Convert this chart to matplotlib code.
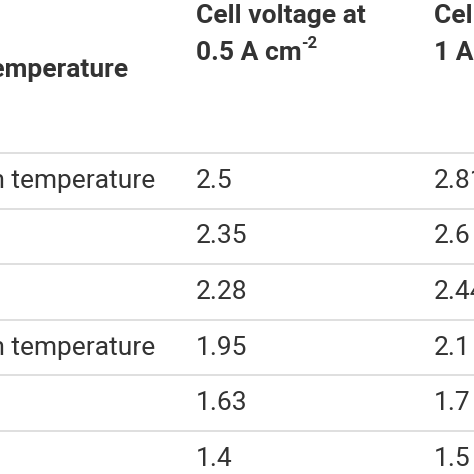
import matplotlib.pyplot as plt

# Table content (cropped view of a larger table)
row_labels = ["Room temperature", "", "", "Room temperature", "", ""]
v_05 = ["2.5", "2.35", "2.28", "1.95", "1.63", "1.4"]
v_10 = ["2.81", "2.6", "2.44", "2.1", "1.7", "1.5"]
header_first = "Temperature"
header_05 = ["Cell voltage at", "0.5 A cm"]
header_10 = ["Cell voltage at", "1 A cm"]

W = H = 474
fig = plt.figure(figsize=(4.74, 4.74), dpi=100)
ax = fig.add_axes([0, 0, 1, 1])
ax.set_xlim(0, W)
ax.set_ylim(H, 0)
ax.axis("off")

txt = "#333333"
line_c = "#dcdcdc"
fs = 19

# header
ax.text(129, 70, header_first, ha="right", va="center", fontsize=fs,
        fontweight="bold", color=txt, family="Roboto")
for x, lines in [(196, header_05), (434, header_10)]:
    ax.text(x, 16, lines[0], ha="left", va="center", fontsize=fs,
            fontweight="bold", color=txt, family="Roboto")
    t = ax.text(x, 53, lines[1], ha="left", va="center", fontsize=fs,
                fontweight="bold", color=txt, family="Roboto")
ax.text(301, 43, "-2", ha="left", va="center", fontsize=12,
        fontweight="bold", color=txt, family="Roboto")

# separators and rows
row_h = 55.6
top = 153
for i in range(len(v_05)):
    y0 = top + i * row_h
    ax.plot([0, W], [y0, y0], color=line_c, linewidth=1.3)
    yc = y0 + row_h / 2
    if row_labels[i]:
        ax.text(155, yc, row_labels[i], ha="right", va="center", fontsize=fs,
                color=txt, family="Roboto")
    ax.text(196, yc, v_05[i], ha="left", va="center", fontsize=fs,
            color=txt, family="Roboto")
    ax.text(434, yc, v_10[i], ha="left", va="center", fontsize=fs,
            color=txt, family="Roboto")

fig.savefig("out.png", dpi=100, facecolor="white")
